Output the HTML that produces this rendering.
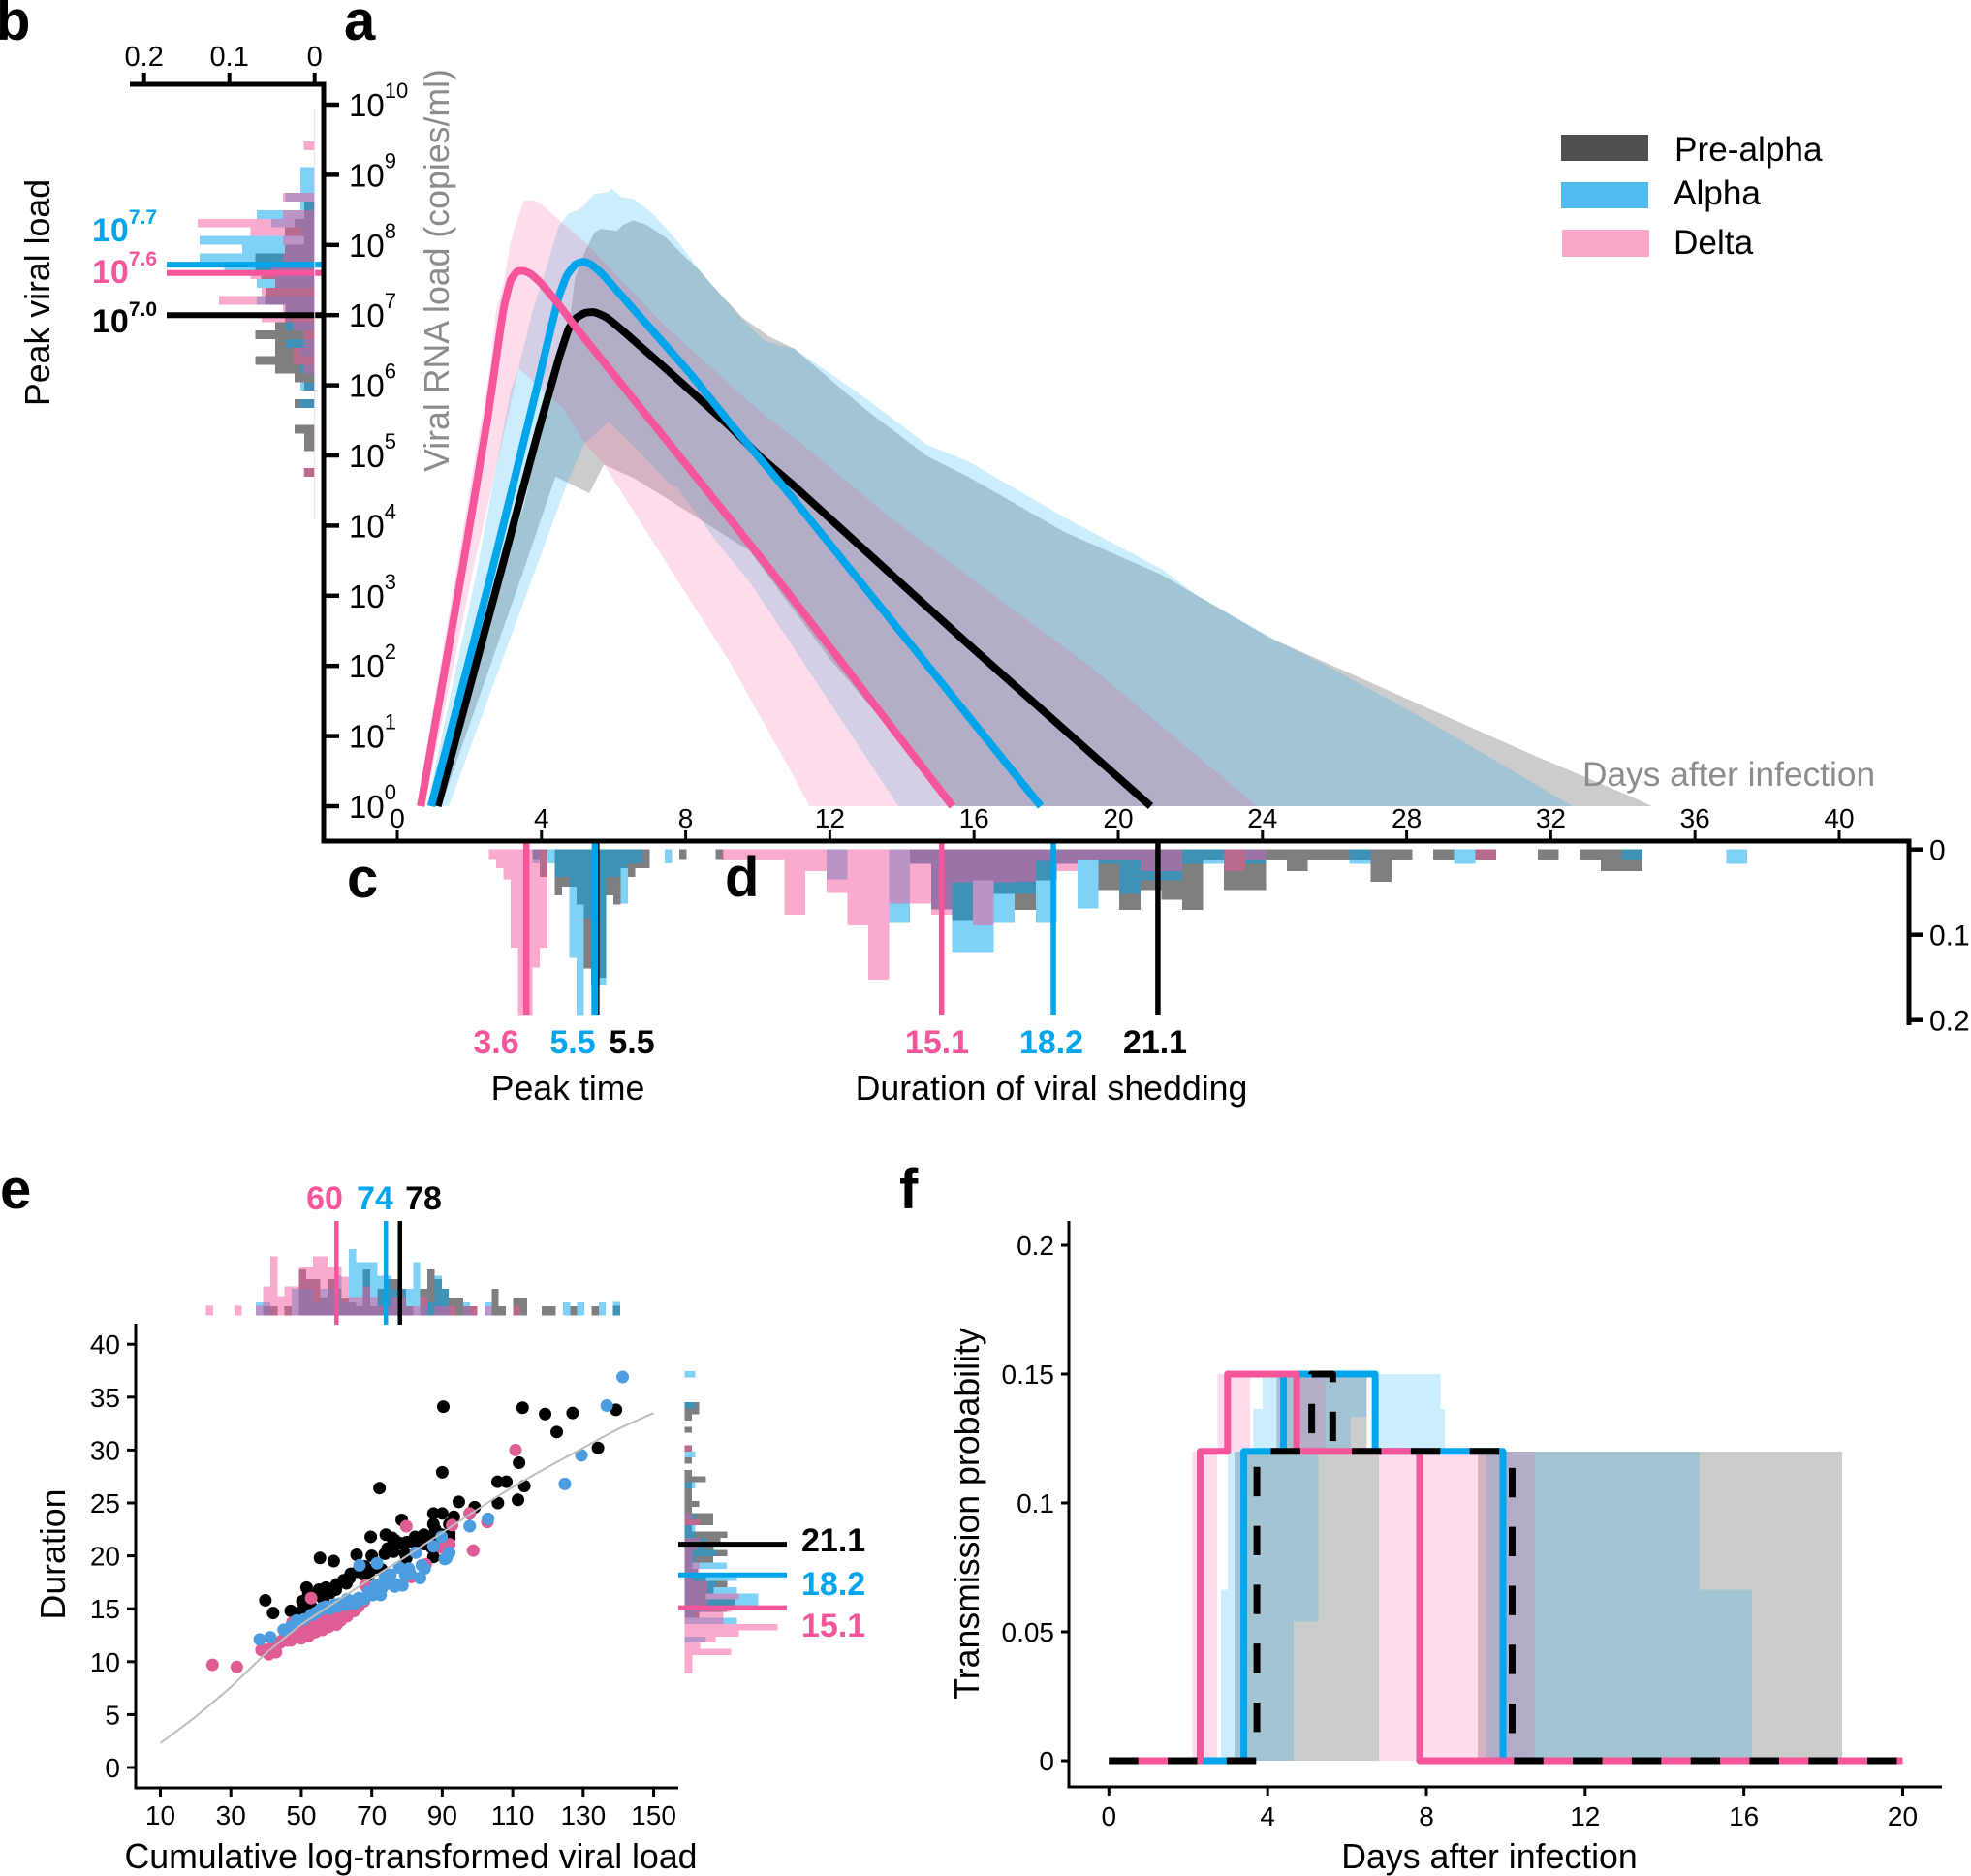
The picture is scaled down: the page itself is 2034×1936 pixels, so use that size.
<!DOCTYPE html>
<html lang="en">
<head>
<meta charset="utf-8">
<title>Viral load kinetics by variant</title>
<style>
html,body{margin:0;padding:0;background:#fff}
svg{display:block;font-family:"Liberation Sans",sans-serif}
text{fill:#000}
.bold{font-weight:bold}
.pk{fill:#f5559a}.bl{fill:#00a5ec}.gy{fill:#8c8c8c}
</style>
</head>
<body>
<svg id="fig" xmlns="http://www.w3.org/2000/svg" width="2034" height="1936" viewBox="0 0 2034 1936">
<rect x="0" y="0" width="2034" height="1936" fill="#fff"/>
<g id="layerRibbons"></g>
<g id="layerLines"></g>
<g id="layerHist"></g>
<g id="layerScatter"></g>
<g id="layerTrans"></g>
<g id="layerAxes">
  <path d="M134 87H334V868H1970V1058" fill="none" stroke="#000" stroke-width="5"/>
  <path d="M140 1366V1845H700" fill="none" stroke="#000" stroke-width="3"/>
  <path d="M1103 1260V1844H2004" fill="none" stroke="#000" stroke-width="3"/>
</g>
<g id="layerTicks"></g>

<g class="bold" font-size="58">
  <text x="355" y="41" class="bold">a</text>
  <text x="-4" y="41" class="bold">b</text>
  <text x="358" y="926" class="bold">c</text>
  <text x="748" y="925" class="bold">d</text>
  <text x="0" y="1247" class="bold">e</text>
  <text x="928" y="1247" class="bold">f</text>
</g>

<g font-size="35.7">
  <text class="gy" text-anchor="middle" transform="translate(463 279) rotate(-90)">Viral RNA load (copies/ml)</text>
  <text text-anchor="middle" transform="translate(51 302) rotate(-90)">Peak viral load</text>
  <text class="gy" x="1633" y="811" font-size="35.3">Days after infection</text>
  <text text-anchor="middle" x="586" y="1135">Peak time</text>
  <text text-anchor="middle" x="1085" y="1135">Duration of viral shedding</text>
  <text text-anchor="middle" transform="translate(67 1604) rotate(-90)">Duration</text>
  <text text-anchor="middle" x="424" y="1928">Cumulative log-transformed viral load</text>
  <text text-anchor="middle" transform="translate(1010 1562) rotate(-90)">Transmission probability</text>
  <text text-anchor="middle" x="1537" y="1928">Days after infection</text>
</g>

<g font-size="35.2">
  <rect x="1611" y="139" width="90" height="27" fill="#4f4f4f"/>
  <rect x="1611" y="188" width="90" height="27" fill="#4fbdf0"/>
  <rect x="1612" y="237" width="90" height="28" fill="#faa8ca"/>
  <text x="1728" y="166">Pre-alpha</text>
  <text x="1727" y="211">Alpha</text>
  <text x="1727" y="262">Delta</text>
</g>

<g class="bold">
  <text class="bl bold" x="95" y="249" font-size="34">10<tspan font-size="21" dy="-18">7.7</tspan></text>
  <text class="pk bold" x="95" y="292" font-size="34">10<tspan font-size="21" dy="-18">7.6</tspan></text>
  <text class="bold" x="95" y="343" font-size="34">10<tspan font-size="21" dy="-17">7.0</tspan></text>
</g>
<g font-size="34">
  <text class="pk bold" text-anchor="middle" x="512" y="1087">3.6</text>
  <text class="bl bold" text-anchor="middle" x="591" y="1087">5.5</text>
  <text class="bold" text-anchor="middle" x="652" y="1087">5.5</text>
  <text class="pk bold" text-anchor="middle" x="967" y="1087">15.1</text>
  <text class="bl bold" text-anchor="middle" x="1085" y="1087">18.2</text>
  <text class="bold" text-anchor="middle" x="1192" y="1087">21.1</text>
  <text class="pk bold" text-anchor="middle" x="335" y="1248">60</text>
  <text class="bl bold" text-anchor="middle" x="387" y="1248">74</text>
  <text class="bold" text-anchor="middle" x="437" y="1248">78</text>
  <text class="bold" x="827" y="1601">21.1</text>
  <text class="bl bold" x="827" y="1646">18.2</text>
  <text class="pk bold" x="827" y="1689">15.1</text>
</g>
</svg>

<script>
// ---------- Shared colours ----------
var colPre = '#000000', colAlpha = '#00a5ec', colDelta = '#f5559a';

// ---------- Panel a: viral load (day, log10 copies/ml) ----------
var linePre = [[1.12,0],[2.87,3.34],[3.85,5.23],[4.48,6.38],[4.75,6.8],[4.97,6.96],[5.2,7.03],[5.47,7.04],[5.82,6.96],[6.36,6.73],[7.44,6.24],[8.33,5.83],[9.23,5.41],[10.13,4.95],[11.02,4.56],[15.86,2.3],[20.9,0]];
var lineAlpha = [[0.94,0],[2.62,3.34],[3.85,5.92],[4.21,6.7],[4.48,7.26],[4.7,7.56],[4.93,7.72],[5.15,7.76],[5.38,7.72],[5.73,7.56],[6.54,7.09],[8.15,6.15],[9.23,5.46],[11.02,4.36],[17.85,0]];
var lineDelta = [[0.65,0],[1.79,3.34],[2.51,5.55],[2.82,6.66],[2.96,7.12],[3.14,7.49],[3.32,7.62],[3.51,7.63],[3.72,7.58],[4.03,7.43],[4.57,7.09],[4.93,6.84],[6.9,5.58],[10.39,3.34],[15.4,0]];

var upperPre = [[1.17,0],[2.87,3.34],[3.5,4.26],[4.21,5.87],[4.75,6.8],[4.93,7.53],[5.2,7.9],[5.47,8.18],[5.65,8.23],[6.09,8.2],[6.27,8.29],[6.54,8.35],[6.9,8.29],[7.44,8.11],[7.88,7.88],[8.33,7.67],[8.87,7.35],[9.59,6.96],[10.3,6.7],[11.02,6.52],[12.98,5.66],[14.7,4.99],[15.86,4.69],[18.5,3.91],[21.2,3.3],[24.2,2.4],[25.97,2.0],[28.8,1.35],[31.46,0.74],[34.4,0.1],[34.8,0]];
var lowerPre = [[1.21,0],[3.49,3.34],[4.39,4.7],[5.33,4.46],[5.73,4.87],[6.54,4.68],[7.44,4.4],[9.77,3.64],[12,2.1],[15.5,0]];
var upperAlpha = [[0.82,0],[2.2,3.34],[3.14,5.92],[3.36,6.24],[3.76,7.07],[4.03,7.49],[4.21,7.81],[4.48,8.27],[4.75,8.45],[5.02,8.5],[5.15,8.55],[5.47,8.73],[5.82,8.75],[5.96,8.8],[6.23,8.68],[6.54,8.66],[7.08,8.45],[7.8,8.04],[8.33,7.67],[8.87,7.35],[9.5,6.98],[10.2,6.63],[11.02,6.52],[12.98,5.82],[14.7,5.15],[15.86,4.91],[18.5,4.12],[21.2,3.38],[22.2,3.0],[24.4,2.36],[25.8,2.0],[28.3,1.3],[30.4,0.67],[32.6,0]];
var lowerAlpha = [[1.43,0],[3.81,3.34],[4.75,4.65],[5.2,5.18],[5.87,5.48],[6.72,5.05],[7.62,4.56],[7.75,4.56],[8.87,3.76],[9.77,3.2],[11.02,2.24],[13.9,0]];
var upperDelta = [[0.54,0],[1.63,3.34],[2.6,6.34],[2.73,7.03],[2.96,7.49],[3.14,8.04],[3.27,8.27],[3.51,8.63],[3.81,8.64],[4.03,8.57],[4.57,8.32],[5.24,8.02],[5.73,7.76],[7.44,6.84],[8.33,6.43],[9.41,5.92],[10.13,5.6],[11.02,5.25],[13.66,4.12],[15.86,3.27],[19.2,2.0],[23.85,0]];
var lowerDelta = [[0.76,0],[2.09,3.34],[3.23,5.92],[3.36,6.24],[4.57,5.69],[5.2,5.18],[5.73,4.87],[7.62,3.34],[9.23,2.05],[11.02,0.4],[11.43,0]];

var daysTicks = [0,4,8,12,16,20,24,28,32,36,40];
var logTicks = [0,1,2,3,4,5,6,7,8,9,10];

// ---------- Histograms b/c/d: relative frequency x2640 (264 = 0.1) ----------
var cPre = [0,0,0,0,0,0,29,85,0,142,115,115,170,368,420,397,142,170,58,85,58,58,0,0,0,0,29,0,0,0,0,29];
var cAlpha = [0,0,0,0,0,0,43,0,43,85,85,335,512,212,512,420,85,85,168,45,43,0,0,0,43];
var cDelta = [29,58,92,304,512,512,365,304];

var dPre = [0,0,0,0,0,0,0,0,0,45,185,218,95,137,187,95,45,33,125,187,125,155,187,33,125,125,33,67,33,33,33,100,33,0,33,0,33,0,0,33,0,33,67,67];
var dAlpha = [0,0,0,0,0,92,0,0,228,45,185,318,318,228,137,228,45,182,45,137,95,95,45,45,0,45,0,0,0,0,45,0,0,0,0,45,0,0,0,0,0,0,0,33,0,0,0,0,45];
var dDelta = [33,33,33,202,67,135,235,403,168,168,202,102,235,102,100,35,67,33,33,33,67,67,0,0,67,33,0,0,0,0,0,0,0,0,0,0,33];

var bPre = [0,0,0,0,0,0,0,32,32,62,92,32,92,184,184,165,122,152,154,90,92,122,184,122,122,184,122,62,32,0,62,0,0,62,32,32,0,0,32];
var bAlpha = [0,0,0,44,44,44,90,44,179,134,44,356,224,356,280,120,179,0,179,90,0,90,0,90,44,0,46,0,44,0,46];
var bDelta = [34,0,0,0,0,0,98,0,98,362,198,98,92,98,134,198,122,164,296,98,164,66,34,34,66,66,34,0,0,0,0,0,0,0,0,0,0,0,34];

// ---------- Panel e marginals (relative frequency, 3 units = 1 px) ----------
var topPre = [0,0,0,0,0,0,0,0,28,28,0,28,0,142,112,112,55,112,82,55,40,28,142,28,82,112,112,82,28,0,82,142,112,82,55,55,28,28,0,0,82,28,0,55,55,0,0,28,28,0,0,28,0,0,28,0,0,30];
var topAlpha = [0,0,0,0,0,0,0,40,40,0,0,0,82,82,82,40,82,82,122,40,205,164,164,164,122,122,82,82,82,164,28,40,122,82,0,0,40,0,0,40,0,0,0,0,0,0,0,0,0,0,40,0,40,0,0,40,0,42];
var topDelta = [30,0,0,0,30,0,0,30,90,182,60,90,90,148,148,182,182,148,150,120,57,57,90,57,28,28,57,57,28,28,57,0,28,28,28,0,28,28,0,28,0,0,0,28];

var rightPre = [0,0,0,0,0,0,0,0,0,44,132,156,66,90,132,66,40,24,88,132,90,110,132,22,88,88,22,44,22,22,22,66,22,0,22,0,22,0,0,22,0,22,44,44];
var rightAlpha = [0,0,0,0,0,66,0,0,162,32,70,227,227,162,98,162,40,130,32,98,60,65,32,32,0,32,0,0,0,0,32,0,0,0,0,32,0,0,0,0,0,0,0,32,0,0,0,0,32];
var rightDelta = [24,24,24,144,48,95,168,287,120,120,144,70,168,70,70,25,45,45,24,24,40,48,0,0,48,24,0,0,0,0,0,0,0,0,0,0,22];

// ---------- Summary values ----------
var peakTimeMedians = [5.52,5.48,3.58];
var durationMedians = [21.1,18.2,15.1];
var peakLoadMedians = [7.0,7.72,7.6];
var cumulativeMedians = [78,74,60];

// ---------- Panel e scatter: [cumulative viral load, duration] ----------
var scatterPre = [[90.3,34.1],[112.8,34],[119.2,33.4],[127,33.5],[122.5,31.7],[139.3,33.8],[134.2,30.2],[111.8,28.8],[90,27.9],[72.2,26.4],[113.3,26.6],[111.5,25.3],[105.7,27],[108.2,27],[105.8,25],[94.7,25.1],[78.5,23.4],[90,24],[87.5,24],[87.5,23],[93.3,23.7],[97.8,24],[99.2,24.6],[69.7,21.8],[74,22],[75.8,21.7],[82.3,21.8],[84.8,22],[87,21.8],[89.8,22],[92,21.7],[65.7,20.1],[55.3,19.8],[59.2,19.5],[39.8,15.8],[42,14.6],[47,14.8],[50.3,15.7],[51.5,17],[58.2,16.5],[59.8,16.8],[62,17.7],[63.7,17.9],[69.2,18.2],[71.2,18.9],[73.7,20.2],[76.2,20.4],[79.5,20.2],[74.5,20.7],[79.8,19.8],[87.5,19.9],[87.8,21],[91.2,21.1],[82.5,21.1],[76.5,21.5],[49.8,14.7],[52.8,15.2],[54.5,16.3],[56.2,15.9],[62.8,17.4],[67.8,18.2],[72.8,18.7],[83.7,21.7],[87,20.8],[90.5,21.5],[92,22.1],[52,16.4],[55,16.8],[57,17],[60,17.3],[64,18.3],[66,18.5],[68,19],[70,20],[75,20.5],[78,21.2],[80,21.3],[85,21.1],[88,22.5],[92,23]];
var scatterDelta = [[24.8,9.7],[31.7,9.5],[110.8,30],[98.8,20.5],[102.8,23.2],[79.8,22.8],[97.8,24],[92.8,22.9],[89.8,20.8],[92,21.1],[85.3,19.2],[81.2,18],[68.2,17.2],[52.8,16],[38.7,11.1],[40.8,10.7],[42.8,10.9],[39.8,11.1],[44.5,12],[46.2,12.4],[47.5,13.7],[49.5,12.9],[52,12.4],[52.8,13.5],[55.3,13.2],[57,13.5],[58.7,13.9],[60.8,14.2],[62.8,14.8],[64.5,15],[51.2,12.9],[54.5,13.7],[57.8,13.3],[61.2,13.9],[66.2,15.2],[48.7,12.4],[47,12.9],[42.8,11.6],[45.3,12.9],[53.7,12.9],[56.2,13.9],[59.8,14.6],[67.8,15.7],[70.3,16.3],[41.2,11.2],[47,12],[50,12.2],[53,12.7],[56,13],[58,13.6],[60,13.5],[63,14.3],[65,14.8],[44,11.8],[46,12],[49,12.3],[51,13.4],[54,12.8],[57,14.1],[59,14.3]];
var scatterAlpha = [[141.2,36.9],[136.7,34.2],[129.5,29.5],[124.8,26.8],[103,23.5],[97.8,22.8],[89.8,21.8],[87.5,20.9],[82.5,20.3],[66.5,19.1],[71.5,19.3],[91.2,19.8],[92,20.3],[90.7,19.7],[38.2,12.1],[41.2,12.3],[48.7,13.9],[50.8,14],[52.8,14.4],[55.3,14.9],[57,15.2],[59.5,15.4],[61.2,15.5],[64.5,15.7],[66.2,16],[67.8,15.9],[70.3,16.3],[72.5,16.3],[73.7,18],[75.3,18.2],[77.8,18.9],[80.5,18.8],[84.2,19.1],[83.7,17.9],[76.5,17.1],[78.7,17.2],[71.2,17.2],[69.2,16.5],[65.3,15.5],[74.5,17.4],[62.8,15.4],[60.3,15.2],[79.5,18.2],[45,13],[47,13.3],[54,14.6],[56,15.1],[58,15],[63,15.9],[69,16.6],[71,16.7],[73,17],[75,17.6],[77,17.3],[81,18.3],[85,18.8]];
var fitLine = [[10,2.3],[20,4.8],[30,7.6],[40,10.8],[50,13.5],[60,15.7],[70,17.9],[80,20],[90,22.2],[100,24.4],[110,26.5],[120,28.4],[130,30.2],[140,32],[150,33.5]];
var eXTicks = [10,30,50,70,90,110,130,150];
var eYTicks = [0,5,10,15,20,25,30,35,40];

// ---------- Panel f: transmission probability ----------
// Confidence bands: [start day, end day, low probability, high probability]
var bandPre = [[3.17,6.81,0,0.12],[4.23,6.5,0.12,0.15],[9.3,18.48,0,0.12]];
var bandAlpha = [[2.82,4.66,0,0.054],[2.82,5.28,0.054,0.0663],[2.99,5.28,0.0663,0.12],[3.64,6.1,0.12,0.1335],[3.64,6.5,0.1335,0.1365],[3.87,6.5,0.1365,0.15],[6.65,8.46,0.12,0.1365],[6.65,8.36,0.1365,0.15],[9.5,16.2,0,0.0663],[9.5,14.88,0.0663,0.12]];
var bandDelta = [[2.11,2.73,0,0.12],[2.74,3.56,0.12,0.15],[4.66,5.45,0.12,0.15],[6.81,10.72,0,0.12]];
var stepPre = [[0,0],[3.73,0],[3.73,0.12],[5.11,0.12],[5.11,0.15],[5.64,0.15],[5.64,0.12],[10.16,0.12],[10.16,0],[20,0]];
var stepAlpha = [[0,0],[3.4,0],[3.4,0.12],[4.4,0.12],[4.4,0.15],[6.71,0.15],[6.71,0.12],[9.93,0.12],[9.93,0],[20,0]];
var stepDelta = [[0,0],[2.3,0],[2.3,0.12],[2.99,0.12],[2.99,0.15],[4.73,0.15],[4.73,0.12],[7.83,0.12],[7.83,0],[20,0]];
var fXTicks = [0,4,8,12,16,20];
var fYTicks = [0,0.05,0.1,0.15,0.2];

// ---------- Axis functions ----------
function xDay(d){return 410+37.2*d;}
function yLog(v){return 832-72.4*v;}
function freqPx(v){return v/3;}
function xLoad(v){return 165.5+(v-10)*3.636;}
function yDur(v){return 1824-10.92*v;}
function xF(d){return 1144.3+40.96*d;}
function yF(p){return 1817-2660*p;}

var NS = 'http://www.w3.org/2000/svg';
function mk(parent, tag){var el=document.createElementNS(NS,tag);parent.appendChild(el);return el;}
function g(id){return document.getElementById(id);}

// Smooth curve through screen points (Catmull-Rom to cubic Bezier)
function smoothPath(pts){
  var d = 'M'+pts[0][0]+' '+pts[0][1];
  for(var i=0;i<pts.length-1;i++){
    var p0=pts[Math.max(i-1,0)],p1=pts[i],p2=pts[i+1],p3=pts[Math.min(i+2,pts.length-1)];
    var k=Math.min(1,Math.hypot(p2[0]-p1[0],p2[1]-p1[1])/Math.max(1,Math.hypot(p2[0]-p0[0],p2[1]-p0[1])))/6*Math.min(1,Math.hypot(p2[0]-p1[0],p2[1]-p1[1])/Math.max(1,Math.hypot(p3[0]-p1[0],p3[1]-p1[1]))*1.5+0.4);
    d+=' C'+(p1[0]+(p2[0]-p0[0])*k)+' '+(p1[1]+(p2[1]-p0[1])*k)+' '+(p2[0]-(p3[0]-p1[0])*k)+' '+(p2[1]-(p3[1]-p1[1])*k)+' '+p2[0]+' '+p2[1];
  }
  return d;
}

// ---------- Drawing: ribbons and lines ----------
function drawRibbon(up, lo, col, name){
  var pts = up.concat(lo.slice().reverse()).map(function(p){return xDay(p[0])+','+yLog(p[1]);}).join(' ');
  var el = mk(g('layerRibbons'),'polygon');
  el.setAttribute('points',pts);
  el.setAttribute('fill',col);
  el.setAttribute('fill-opacity','0.2');
  
  
}
drawRibbon(upperPre,lowerPre,colPre,'ribbon-pre-alpha');
drawRibbon(upperAlpha,lowerAlpha,colAlpha,'ribbon-alpha');
drawRibbon(upperDelta,lowerDelta,colDelta,'ribbon-delta');

function drawLine(arr, col, name){
  var el = mk(g('layerLines'),'path');
  el.setAttribute('d',smoothPath(arr.map(function(p){return [xDay(p[0]),yLog(p[1])];})));
  el.setAttribute('fill','none');
  el.setAttribute('stroke',col);
  el.setAttribute('stroke-width','8');
  el.setAttribute('stroke-linejoin','round');
  
  
}
drawLine(linePre,colPre,'line-pre-alpha');
drawLine(lineAlpha,colAlpha,'line-alpha');
drawLine(lineDelta,colDelta,'line-delta');

// ---------- Drawing: histograms ----------
function barsDown(vals, start, width, xFn, baseY, col, name){
  vals.forEach(function(v,i){
    if(!v) return;
    var x0 = xFn(start+width*i), x1 = xFn(start+width*(i+1));
    var el = mk(g('layerHist'),'rect');
    el.setAttribute('x',x0);
    el.setAttribute('y',baseY);
    el.setAttribute('width',x1-x0);
    el.setAttribute('height',freqPx(v));
    el.setAttribute('fill',col);
    el.setAttribute('fill-opacity','0.5');
    el.setAttribute('shape-rendering','crispEdges');
    
    
  });
}
function barsUp(vals, start, width, xFn, baseY, col, name){
  vals.forEach(function(v,i){
    if(!v) return;
    var x0 = xFn(start+width*i), x1 = xFn(start+width*(i+1));
    var el = mk(g('layerHist'),'rect');
    el.setAttribute('x',x0);
    el.setAttribute('y',baseY-freqPx(v));
    el.setAttribute('width',x1-x0);
    el.setAttribute('height',freqPx(v));
    el.setAttribute('fill',col);
    el.setAttribute('fill-opacity','0.5');
    el.setAttribute('shape-rendering','crispEdges');
    
    
  });
}
function barsLeft(vals, start, step, yFn, baseX, col, name){
  vals.forEach(function(v,i){
    if(!v) return;
    var y0 = yFn(start+step*i), y1 = yFn(start+step*(i+1));
    var el = mk(g('layerHist'),'rect');
    el.setAttribute('x',baseX-freqPx(v));
    el.setAttribute('y',Math.min(y0,y1));
    el.setAttribute('width',freqPx(v));
    el.setAttribute('height',Math.abs(y1-y0));
    el.setAttribute('fill',col);
    el.setAttribute('fill-opacity','0.5');
    el.setAttribute('shape-rendering','crispEdges');
    
    
  });
}
function barsRight(vals, start, step, yFn, baseX, col, name){
  vals.forEach(function(v,i){
    if(!v) return;
    var y0 = yFn(start+step*i), y1 = yFn(start+step*(i+1));
    var el = mk(g('layerHist'),'rect');
    el.setAttribute('x',baseX);
    el.setAttribute('y',Math.min(y0,y1));
    el.setAttribute('width',freqPx(v));
    el.setAttribute('height',Math.abs(y1-y0));
    el.setAttribute('fill',col);
    el.setAttribute('fill-opacity','0.5');
    el.setAttribute('shape-rendering','crispEdges');
    
    
  });
}
// Panel b
barsLeft(bPre,9.475,-0.1225,yLog,324.7,colPre,'peak-load-bar-pre-alpha');
barsLeft(bAlpha,9.475,-0.1225,yLog,324.7,colAlpha,'peak-load-bar-alpha');
barsLeft(bDelta,9.475,-0.1225,yLog,324.7,colDelta,'peak-load-bar-delta');
// Panel c
barsDown(cPre,2.535,0.2033,xDay,876.7,colPre,'peak-time-bar-pre-alpha');
barsDown(cAlpha,2.535,0.2033,xDay,876.7,colAlpha,'peak-time-bar-alpha');
barsDown(cDelta,2.535,0.2033,xDay,876.7,colDelta,'peak-time-bar-delta');
// Panel d
barsDown(dPre,9.0,0.5806,xDay,876.7,colPre,'duration-bar-pre-alpha');
barsDown(dAlpha,9.0,0.5806,xDay,876.7,colAlpha,'duration-bar-alpha');
barsDown(dDelta,9.0,0.5806,xDay,876.7,colDelta,'duration-bar-delta');
// Panel e marginals
barsUp(topPre,22.97,2.026,xLoad,1357.3,colPre,'cumulative-bar-pre-alpha');
barsUp(topAlpha,22.97,2.026,xLoad,1357.3,colAlpha,'cumulative-bar-alpha');
barsUp(topDelta,22.97,2.026,xLoad,1357.3,colDelta,'cumulative-bar-delta');
barsRight(rightPre,8.88,0.583,yDur,706.7,colPre,'marginal-duration-bar-pre-alpha');
barsRight(rightAlpha,8.88,0.583,yDur,706.7,colAlpha,'marginal-duration-bar-alpha');
barsRight(rightDelta,8.88,0.583,yDur,706.7,colDelta,'marginal-duration-bar-delta');

// Median reference lines
var refNames = ['pre-alpha','alpha','delta'];
var refCols = [colPre,colAlpha,colDelta];
function refV(x,y0,y1,col,w,name){
  var el = mk(g('layerHist'),'line');
  el.setAttribute('x1',x);el.setAttribute('x2',x);
  el.setAttribute('y1',y0);el.setAttribute('y2',y1);
  el.setAttribute('stroke',col);el.setAttribute('stroke-width',w);
  
  
}
function refH(y,x0,x1,col,w,name){
  var el = mk(g('layerHist'),'line');
  el.setAttribute('y1',y);el.setAttribute('y2',y);
  el.setAttribute('x1',x0);el.setAttribute('x2',x1);
  el.setAttribute('stroke',col);el.setAttribute('stroke-width',w);
  
  
}
refNames.forEach(function(n,i){
  refV(xDay(peakTimeMedians[i]),868,1047,refCols[i],6.5,'peak-time-median-'+n);
  refV(xDay(durationMedians[i]),868,1047,refCols[i],5.5,'duration-median-'+n);
  refH(yLog(peakLoadMedians[i]),172,333,refCols[i],6,'peak-load-median-'+n);
  refV(xLoad(cumulativeMedians[i]),1260,1367,refCols[i],4.5,'cumulative-median-'+n);
  refH(yDur(durationMedians[i]),700,812,refCols[i],5,'marginal-duration-median-'+n);
});
var histBase = mk(g('layerHist'),'line');
histBase.setAttribute('x1',324.7);histBase.setAttribute('x2',324.7);
histBase.setAttribute('y1',112);histBase.setAttribute('y2',537);
histBase.setAttribute('stroke','#fbdce9');histBase.setAttribute('stroke-width','1');



// ---------- Drawing: scatter ----------
var fitEl = mk(g('layerScatter'),'path');
fitEl.setAttribute('d',smoothPath(fitLine.map(function(p){return [xLoad(p[0]),yDur(p[1])];})));
fitEl.setAttribute('fill','none');fitEl.setAttribute('stroke','#bdbdbd');fitEl.setAttribute('stroke-width','2');


function drawPoints(arr,col,name){
  arr.forEach(function(p){
    var el = mk(g('layerScatter'),'circle');
    el.setAttribute('cx',xLoad(p[0]));
    el.setAttribute('cy',yDur(p[1]));
    el.setAttribute('r','6.5');
    el.setAttribute('fill',col);
    
    
  });
}
drawPoints(scatterPre,'#000000','scatter-point-pre-alpha');
drawPoints(scatterDelta,'#e05c94','scatter-point-delta');
drawPoints(scatterAlpha,'#4c9ce0','scatter-point-alpha');
// The trend line sits above the points
g('layerScatter').appendChild(fitEl);

// ---------- Drawing: panel f ----------
function drawBands(arr,col,name){
  arr.forEach(function(b){
    var el = mk(g('layerTrans'),'rect');
    el.setAttribute('x',xF(b[0]));
    el.setAttribute('y',yF(b[3]));
    el.setAttribute('width',xF(b[1])-xF(b[0]));
    el.setAttribute('height',yF(b[2])-yF(b[3]));
    el.setAttribute('fill',col);
    el.setAttribute('fill-opacity','0.2');
    el.setAttribute('shape-rendering','crispEdges');
    
    
  });
}
drawBands(bandPre,colPre,'transmission-band-pre-alpha');
drawBands(bandAlpha,colAlpha,'transmission-band-alpha');
drawBands(bandDelta,colDelta,'transmission-band-delta');
function drawStep(arr,col,dash,name){
  var el = mk(g('layerTrans'),'polyline');
  el.setAttribute('points',arr.map(function(p){return xF(p[0])+','+yF(p[1]);}).join(' '));
  el.setAttribute('fill','none');
  el.setAttribute('stroke',col);
  el.setAttribute('stroke-width','7');
  el.setAttribute('stroke-linejoin','round');
  if(dash) el.setAttribute('stroke-dasharray',dash);
  
  
}
drawStep(stepAlpha,colAlpha,null,'transmission-line-alpha');
drawStep(stepDelta,colDelta,null,'transmission-line-delta');
drawStep(stepPre,colPre,'30.4 30.4','transmission-line-pre-alpha');

// ---------- Drawing: ticks ----------
function tick(x1,y1,x2,y2,w,name){
  var el = mk(g('layerTicks'),'line');
  el.setAttribute('x1',x1);el.setAttribute('y1',y1);el.setAttribute('x2',x2);el.setAttribute('y2',y2);
  el.setAttribute('stroke','#000');el.setAttribute('stroke-width',w);
  
  
}
function label(txt,x,y,size,anchor,name){
  var el = mk(g('layerTicks'),'text');
  el.setAttribute('x',x);el.setAttribute('y',y);
  el.setAttribute('font-size',size);el.setAttribute('text-anchor',anchor);
  el.textContent = txt;
  
  
  return el;
}
logTicks.forEach(function(n){
  var y = yLog(n);
  tick(334,y,350,y,4.5,'y-tick-mark');
  var t = label('10',360,y+12,33,'start','y-tick-label');
  var s = mk(t,'tspan');
  s.setAttribute('font-size','22');
  s.setAttribute('dy','-19');
  s.textContent = String(n);
  
  
});
daysTicks.forEach(function(d){
  tick(xDay(d),857,xDay(d),868,3,'x-tick-mark');
  label(String(d),xDay(d),854,28,'middle','x-tick-label');
});
var bTickVals = [0.2,0.1,0];
bTickVals.forEach(function(v){
  var x = 324.7-freqPx(v*2640);
  tick(x,75,x,87,4,'peak-load-frequency-tick');
  label(String(v),x,68,29,'middle','peak-load-frequency-label');
});
var rightTickVals = [0,0.1,0.2];
rightTickVals.forEach(function(v){
  var y = 876.7+freqPx(v*2640);
  tick(1970,y,1984,y,4.5,'frequency-tick');
  label(String(v),1991,y+11,30,'start','frequency-label');
});
eYTicks.forEach(function(v){
  tick(131,yDur(v),140,yDur(v),3,'duration-tick');
  label(String(v),124,yDur(v)+10,28,'end','duration-tick-label');
});
eXTicks.forEach(function(v){
  tick(xLoad(v),1845,xLoad(v),1854,3,'cumulative-tick');
  label(String(v),xLoad(v),1883,28,'middle','cumulative-tick-label');
});
fYTicks.forEach(function(v){
  tick(1095,yF(v),1103,yF(v),3,'probability-tick');
  label(String(v),1088,yF(v)+10,28,'end','probability-tick-label');
});
fXTicks.forEach(function(v){
  tick(xF(v),1844,xF(v),1853,3,'day-tick');
  label(String(v),xF(v),1884,28,'middle','day-tick-label');
});
</script>
</body>
</html>
